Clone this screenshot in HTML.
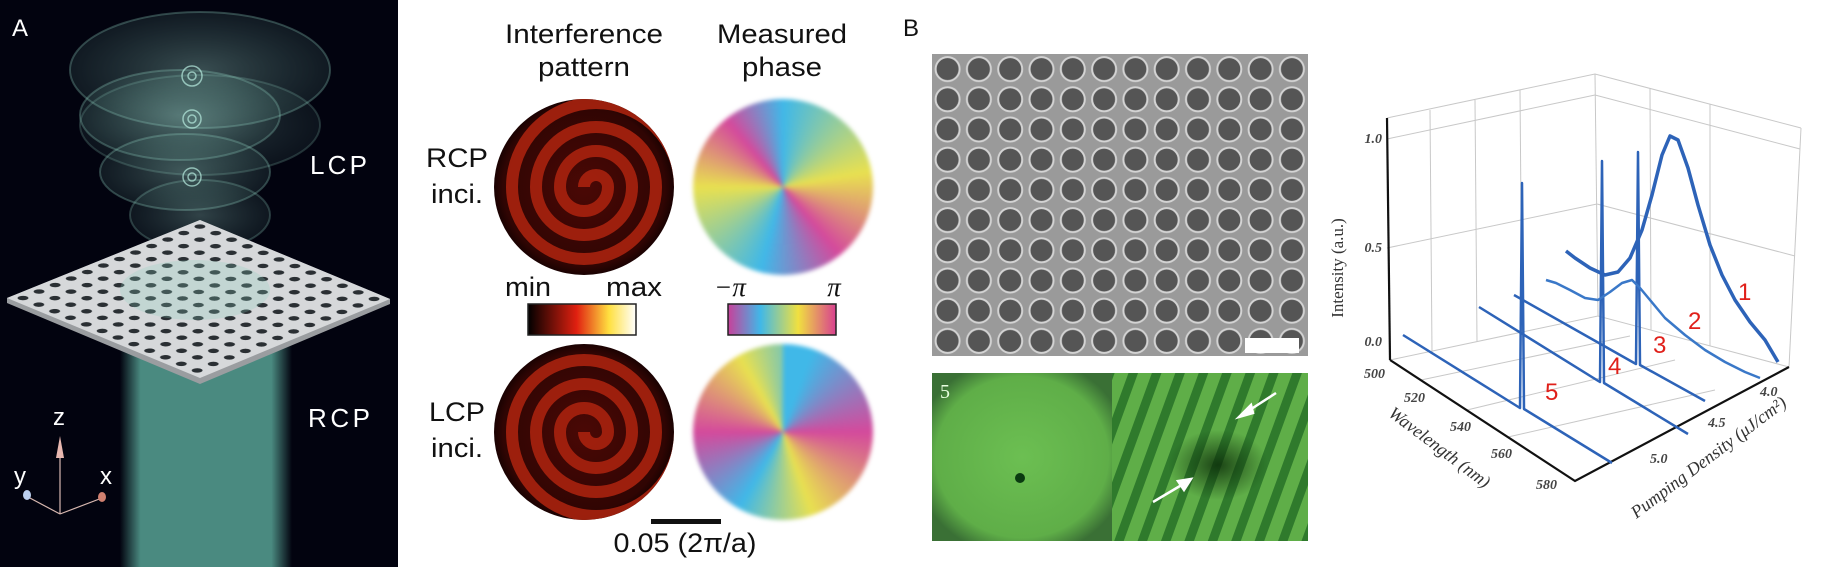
<!DOCTYPE html>
<html><head><meta charset="utf-8"><style>
html,body{margin:0;padding:0;background:#fff;}
body{width:1821px;height:567px;position:relative;overflow:hidden;font-family:"Liberation Sans",sans-serif;}
svg{position:absolute;left:0;top:0;}
.ph{position:absolute;border-radius:50%;filter:blur(2px);}
</style></head><body>
<svg width="1821" height="567" viewBox="0 0 1821 567" xmlns="http://www.w3.org/2000/svg">
<defs>
 <linearGradient id="beam" x1="0" x2="1" y1="0" y2="0">
  <stop offset="0" stop-color="#4a8a80" stop-opacity="0"/>
  <stop offset="0.12" stop-color="#4a8a80"/>
  <stop offset="0.88" stop-color="#4a8a80"/>
  <stop offset="1" stop-color="#4a8a80" stop-opacity="0"/>
 </linearGradient>
 <radialGradient id="sw" cx="0.5" cy="0.5" r="0.5">
  <stop offset="0" stop-color="#9fd8cc" stop-opacity="0.5"/>
  <stop offset="1" stop-color="#6fa89c" stop-opacity="0.2"/>
 </radialGradient>
 <pattern id="holes" width="0.08333" height="0.08333" patternUnits="userSpaceOnUse">
  <ellipse cx="0.0417" cy="0.0417" rx="0.02" ry="0.02" fill="#2a2f33"/>
 </pattern>
 <linearGradient id="cb1" x1="0" x2="1"><stop offset="0" stop-color="#000"/><stop offset="0.45" stop-color="#e02010"/><stop offset="0.75" stop-color="#ffe040"/><stop offset="1" stop-color="#fff"/></linearGradient>
 <linearGradient id="cb2" x1="0" x2="1"><stop offset="0" stop-color="#c8409a"/><stop offset="0.3" stop-color="#40b8e8"/><stop offset="0.65" stop-color="#f0e040"/><stop offset="1" stop-color="#d84090"/></linearGradient>
 <radialGradient id="ir" cx="0.5" cy="0.5" r="0.5"><stop offset="0" stop-color="#4a0805"/><stop offset="0.9" stop-color="#300503"/><stop offset="1" stop-color="#1a0202"/></radialGradient>
 <clipPath id="c1"><ellipse cx="584" cy="187" rx="90" ry="88"/></clipPath>
 <clipPath id="c2"><ellipse cx="584" cy="432" rx="90" ry="88"/></clipPath>
 <pattern id="sem" x="932" y="54" width="31.3" height="30.2" patternUnits="userSpaceOnUse">
  <rect width="31.3" height="30.2" fill="#9a9a9a"/>
  <circle cx="15.6" cy="15.1" r="12" fill="#555" stroke="#d4d4d4" stroke-width="2"/>
 </pattern>
 <pattern id="stripe" width="22" height="22" patternUnits="userSpaceOnUse" patternTransform="rotate(20)">
  <rect width="22" height="22" fill="#5fae48"/>
  <rect width="9" height="22" fill="#2f7a2c"/>
 </pattern>
 <radialGradient id="gl" cx="0.5" cy="0.5" r="0.6"><stop offset="0" stop-color="#6cbf52"/><stop offset="0.8" stop-color="#5fae48"/><stop offset="1" stop-color="#3a7035"/></radialGradient>
 <radialGradient id="dk" cx="0.5" cy="0.5" r="0.5"><stop offset="0" stop-color="#0a2a08" stop-opacity="0.8"/><stop offset="1" stop-color="#0a2a08" stop-opacity="0"/></radialGradient>
</defs>

<rect x="0" y="0" width="398" height="567" fill="#02030f"/>
<rect x="120" y="330" width="172" height="237" fill="url(#beam)"/>
<g fill="url(#sw)" stroke="#8cc9bb" stroke-opacity="0.45" stroke-width="2">
 <ellipse cx="200" cy="70" rx="130" ry="58" opacity="0.7"/>
 <ellipse cx="180" cy="115" rx="100" ry="45" opacity="0.7"/>
 <ellipse cx="200" cy="125" rx="120" ry="50" opacity="0.5"/>
 <ellipse cx="185" cy="172" rx="85" ry="38" opacity="0.7"/>
 <ellipse cx="200" cy="215" rx="70" ry="35" opacity="0.6"/>
</g>
<g fill="none" stroke="#b8ece0" stroke-opacity="0.7" stroke-width="1.5">
 <circle cx="192" cy="76" r="10"/><circle cx="192" cy="76" r="4"/>
 <circle cx="192" cy="119" r="9"/><circle cx="192" cy="119" r="4"/>
 <circle cx="192" cy="177" r="9"/><circle cx="192" cy="177" r="4"/>
</g>
<polygon points="7,298 200,220 390,299 390,304 200,384 7,303" fill="#9a9da0"/>
<polygon points="7,298 200,220 390,299 200,378" fill="#d6d8da"/>
<g transform="matrix(190,79,-193,78,200,220)"><rect x="0" y="0" width="1" height="1" fill="url(#holes)"/></g>
<ellipse cx="195" cy="290" rx="75" ry="30" fill="#8ad0c0" opacity="0.25"/>
<text x="12" y="36" fill="#fff" font-size="24">A</text>
<text x="310" y="174" fill="#fff" font-size="26" textLength="57">LCP</text>
<text x="308" y="427" fill="#fff" font-size="26" textLength="62">RCP</text>
<g stroke="#d8b8b0" stroke-width="1.2"><line x1="60" y1="514" x2="60" y2="450"/><line x1="60" y1="514" x2="28" y2="497"/><line x1="60" y1="514" x2="102" y2="498"/></g>
<polygon points="56,458 64,458 60,436" fill="#e8b8b0"/>
<ellipse cx="27" cy="495" rx="4" ry="5" fill="#bcd0f0"/><ellipse cx="102" cy="497" rx="4" ry="5" fill="#d08070"/>
<text x="53" y="425" fill="#fff" font-size="24">z</text>
<text x="14" y="484" fill="#fff" font-size="24">y</text>
<text x="100" y="484" fill="#fff" font-size="24">x</text>

<g font-size="27" fill="#111" text-anchor="middle">
 <text x="584" y="43" textLength="158" lengthAdjust="spacingAndGlyphs">Interference</text>
 <text x="584" y="76" textLength="92" lengthAdjust="spacingAndGlyphs">pattern</text>
 <text x="782" y="43" textLength="130" lengthAdjust="spacingAndGlyphs">Measured</text>
 <text x="782" y="76" textLength="80" lengthAdjust="spacingAndGlyphs">phase</text>
 <text x="457" y="167" textLength="62" lengthAdjust="spacingAndGlyphs">RCP</text>
 <text x="457" y="203" textLength="52" lengthAdjust="spacingAndGlyphs">inci.</text>
 <text x="457" y="421" textLength="56" lengthAdjust="spacingAndGlyphs">LCP</text>
 <text x="457" y="457" textLength="52" lengthAdjust="spacingAndGlyphs">inci.</text>
 <text x="528" y="296" textLength="46" lengthAdjust="spacingAndGlyphs">min</text>
 <text x="634" y="296" textLength="56" lengthAdjust="spacingAndGlyphs">max</text>
 <text x="730" y="296" font-family="Liberation Serif" font-style="italic">−π</text>
 <text x="834" y="296" font-family="Liberation Serif" font-style="italic">π</text>
 <text x="685" y="552" textLength="143" lengthAdjust="spacingAndGlyphs">0.05 (2π/a)</text>
</g>
<rect x="528" y="304" width="108" height="31" fill="url(#cb1)" stroke="#222" stroke-width="1.5"/>
<rect x="728" y="304" width="108" height="31" fill="url(#cb2)" stroke="#222" stroke-width="1.5"/>
<rect x="651" y="519" width="70" height="5" fill="#111"/>
<ellipse cx="584" cy="187" rx="90" ry="88" fill="url(#ir)"/>
<g clip-path="url(#c1)" fill="none" stroke="#a8220e" stroke-width="12" stroke-opacity="0.9">
 <path d="M584,187 a12,12 0 0,1 24,0 a24,24 0 0,1 -48,0 a36,36 0 0,1 72,0 a48,48 0 0,1 -96,0 a60,60 0 0,1 120,0 a72,72 0 0,1 -144,0 a84,84 0 0,1 168,0"/>
</g>
<ellipse cx="584" cy="432" rx="90" ry="88" fill="url(#ir)"/>
<g clip-path="url(#c2)" fill="none" stroke="#a8220e" stroke-width="12" stroke-opacity="0.9">
 <path d="M584,432 a12,12 0 0,0 24,0 a24,24 0 0,0 -48,0 a36,36 0 0,0 72,0 a48,48 0 0,0 -96,0 a60,60 0 0,0 120,0 a72,72 0 0,0 -144,0 a84,84 0 0,0 168,0"/>
</g>

<text x="903" y="36" fill="#111" font-size="24">B</text>
<rect x="932" y="54" width="376" height="302" fill="url(#sem)"/>
<rect x="1245" y="338" width="54" height="15" fill="#fff"/>
<rect x="932" y="373" width="180" height="168" fill="url(#gl)"/>
<circle cx="1020" cy="478" r="5" fill="#0a3a10"/>
<rect x="1112" y="373" width="196" height="168" fill="url(#stripe)"/>
<ellipse cx="1218" cy="465" rx="50" ry="35" fill="url(#dk)"/>
<text x="940" y="398" fill="#e8ffe0" font-size="20" font-family="Liberation Serif">5</text>
<g stroke="#fff" stroke-width="2.5" fill="#fff">
 <line x1="1276" y1="393" x2="1245" y2="413"/><polygon points="1239,417 1251,405 1253,413"/>
 <line x1="1153" y1="502" x2="1185" y2="483"/><polygon points="1191,479 1178,481 1184,490"/>
</g>

<g stroke="#c8c8c8" stroke-width="1" fill="none">
 <polyline points="1387,118 1595,74 1801,128"/>
 <line x1="1595" y1="74" x2="1598" y2="316"/>
 <polyline points="1390,360 1598,316 1789,367"/>
 <line x1="1801" y1="128" x2="1789" y2="367"/>
 <line x1="1387" y1="139" x2="1595" y2="95"/><line x1="1387" y1="248" x2="1597" y2="204"/>
 <line x1="1595" y1="95" x2="1800" y2="149"/><line x1="1597" y1="204" x2="1795" y2="256"/>
 <line x1="1430" y1="110" x2="1432" y2="352"/><line x1="1475" y1="100" x2="1477" y2="342"/><line x1="1520" y1="90" x2="1522" y2="332"/>
 <line x1="1650" y1="88" x2="1651" y2="330"/><line x1="1710" y1="104" x2="1710" y2="346"/>
 <line x1="1421" y1="380" x2="1630" y2="336"/><line x1="1467" y1="410" x2="1675" y2="360"/><line x1="1508" y1="437" x2="1715" y2="390"/>
</g>
<g stroke="#111" stroke-width="2.2" fill="none">
 <line x1="1387" y1="118" x2="1390" y2="360"/>
 <polyline points="1390,360 1575,481 1789,367"/>
</g>
<g font-family="Liberation Serif" font-weight="bold" font-style="italic" font-size="14" fill="#444">
 <text x="1382" y="143" text-anchor="end">1.0</text>
 <text x="1382" y="252" text-anchor="end">0.5</text>
 <text x="1382" y="346" text-anchor="end">0.0</text>
 <text x="1364" y="378">500</text><text x="1404" y="402">520</text><text x="1450" y="431">540</text><text x="1491" y="458">560</text><text x="1536" y="489">580</text>
 <text x="1760" y="396">4.0</text><text x="1708" y="427">4.5</text><text x="1650" y="463">5.0</text>
</g>
<text transform="translate(1343,268) rotate(-90)" text-anchor="middle" font-family="Liberation Serif" font-size="17" fill="#333">Intensity (a.u.)</text>
<text transform="translate(1436,452) rotate(37)" text-anchor="middle" font-family="Liberation Serif" font-style="italic" font-size="18" fill="#333">Wavelength (nm)</text>
<text transform="translate(1712,462) rotate(-37)" text-anchor="middle" font-family="Liberation Serif" font-style="italic" font-size="18" fill="#333">Pumping Density (μJ/cm²)</text>
<g fill="none" stroke="#2d63b8" stroke-width="2.5" stroke-linejoin="round">
 <polyline points="1403,335 1520,408 1522,183 1524,409 1612,463"/>
 <polyline points="1479,307 1600,382 1602,161 1604,383 1688,434"/>
 <polyline points="1514,295 1636,364 1638,152 1640,365 1705,401"/>
 <polyline stroke="#3a78c8" points="1546,280 1556,283 1570,290 1585,298 1598,300 1610,292 1622,283 1632,280 1640,288 1650,300 1665,318 1685,335 1705,350 1725,362 1745,372 1760,378"/>
 <polyline stroke-width="3.5" points="1566,251 1575,258 1590,268 1605,275 1618,272 1630,258 1642,230 1652,195 1662,155 1670,136 1678,140 1688,168 1698,205 1710,245 1722,275 1735,300 1750,322 1765,340 1778,362"/>
</g>
<g fill="#e0201a" font-size="24">
 <text x="1738" y="300">1</text><text x="1688" y="329">2</text><text x="1653" y="353">3</text><text x="1608" y="374">4</text><text x="1545" y="400">5</text>
</g>
</svg>
<div class="ph" style="left:693px;top:99px;width:180px;height:176px;background:conic-gradient(from 0deg,#40b8e8 0deg,#e8e050 80deg,#d44a9c 140deg,#40b8e8 195deg,#e8e050 270deg,#d44a9c 320deg,#40b8e8 360deg);"></div>
<div class="ph" style="left:693px;top:344px;width:180px;height:176px;background:conic-gradient(from 0deg,#40b8e8 20deg,#d44a9c 90deg,#e8e050 160deg,#40b8e8 210deg,#d44a9c 270deg,#e8e050 330deg,#40b8e8 380deg);"></div>
</body></html>
